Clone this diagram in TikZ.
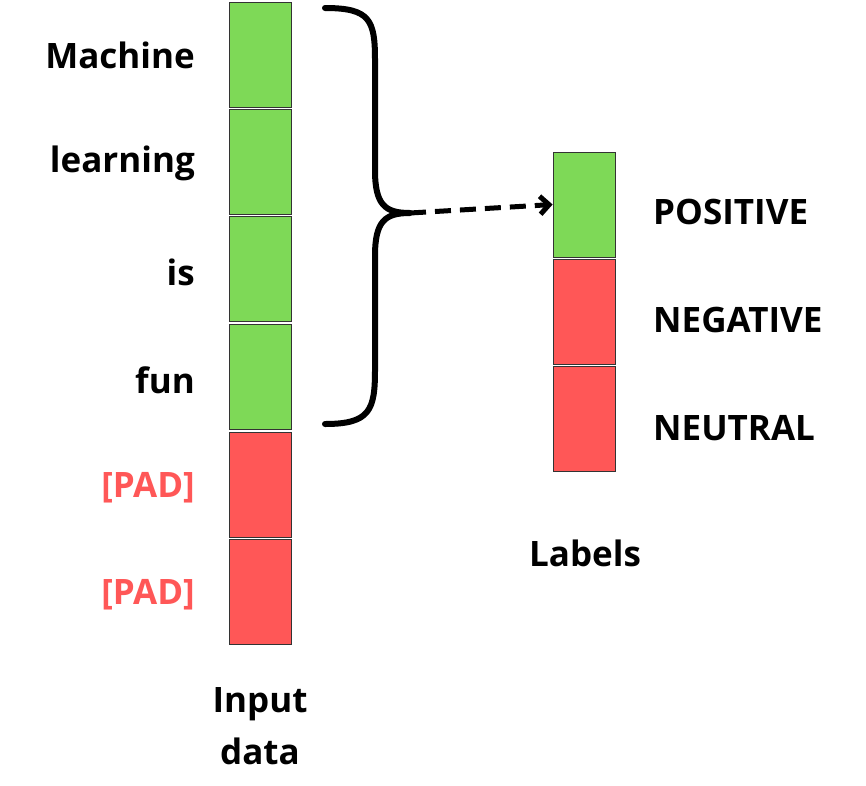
\documentclass[tikz,border=0pt]{standalone}
\usepackage{fontspec}
\setmainfont{Open Sans}
\usetikzlibrary{arrows.meta}
\definecolor{gr}{HTML}{7ED957}
\definecolor{rd}{HTML}{FF5757}
\begin{document}
\begin{tikzpicture}[x=1pt,y=-1pt,
 cell/.style={draw=black!80,line width=0.8pt,minimum width=62pt,minimum height=105pt,inner sep=0pt},
 lab/.style={font=\fontsize{35}{40}\selectfont\bfseries,inner sep=0pt}]
\useasboundingbox (0,0) rectangle (866,785);
\foreach \y/\c [count=\i] in {54.5/gr,161.5/gr,268.5/gr,376.5/gr,484.5/rd,591.5/rd}
  \node[cell,fill=\c] (b\i) at (260,\y) {};
\foreach \y/\c [count=\i] in {204.5/gr,311.5/rd,418.5/rd}
  \node[cell,fill=\c] (r\i) at (584,\y) {};
\node[lab,anchor=east] (t1) at (195,55) {Machine};
\node[lab,anchor=east] (t2) at (195,163) {learning};
\node[lab,anchor=east] (t3) at (195,272) {is};
\node[lab,anchor=east] (t4) at (195,380) {fun};
\node[lab,anchor=east,text=rd] (t5) at (195,488) {[PAD]};
\node[lab,anchor=east,text=rd] (t6) at (195,595) {[PAD]};
\node[lab,anchor=west] (p) at (653,212) {POSITIVE};
\node[lab,anchor=west] (n) at (653,320) {NEGATIVE};
\node[lab,anchor=west] (u) at (653,428) {NEUTRAL};
\node[lab] (lbl) at (585,553) {Labels};
\node[lab,align=center,font=\fontsize{35}{52}\selectfont\bfseries] (in) at (260,726) {Input\\data};
\coordinate (tip) at (410,213);
\draw[line width=6pt,line cap=round,line join=round]
  (325,8) .. controls (370,8) and (375,20) .. (375,60)
  -- (375,170) .. controls (375,205) and (385,213) .. (tip)
  .. controls (385,213) and (375,221) .. (375,256)
  -- (375,370) .. controls (375,410) and (370,424) .. (325,424);
\draw[line width=5pt,dash pattern=on 16pt off 9pt,-{Straight Barb[length=9pt,width=18pt,line width=5pt]}]
  (tip) -- (r1.west);
\end{tikzpicture}
\end{document}
